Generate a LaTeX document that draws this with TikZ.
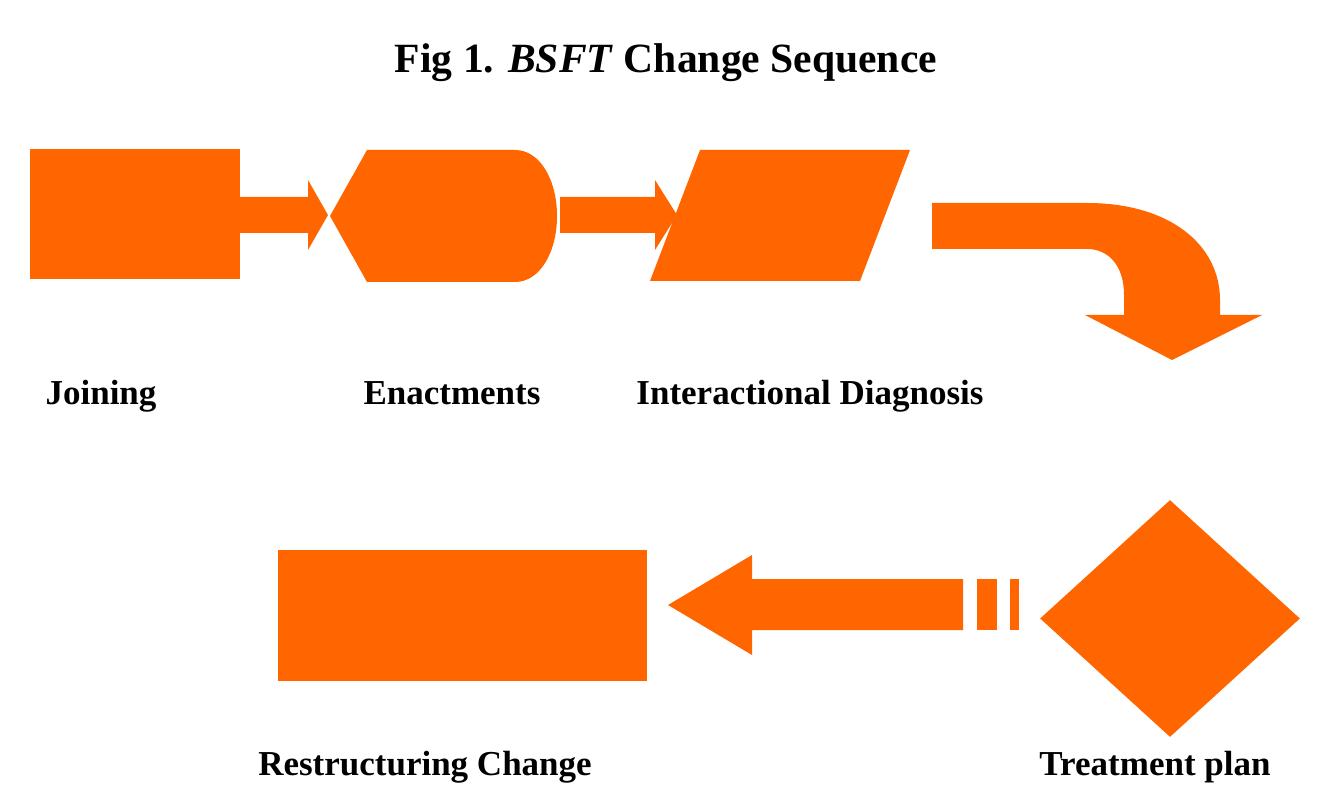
\documentclass[tikz,border=0pt]{standalone}
\usepackage{fontspec}
\setmainfont{Liberation Serif}
\usetikzlibrary{shapes.geometric}
\definecolor{bsft}{HTML}{FF6600}
\begin{document}
\begin{tikzpicture}[x=0.5pt,y=-0.5pt,
  blk/.style={fill=bsft,draw=none},
  lbl/.style={font=\fontsize{17.5}{20}\selectfont\bfseries,anchor=base,inner sep=0pt}]
\useasboundingbox (0,0) rectangle (1321,812);
\node[font=\fontsize{20.8}{24}\selectfont\bfseries,anchor=base,inner sep=0pt] (title) at (666,73) {Fig 1. \textit{BSFT} Change Sequence};
% Joining box
\node[blk,rectangle,minimum width=105pt,minimum height=65pt,inner sep=0pt] (join) at (135,214) {};
% arrow 1
\path[blk] (240,197) -- (308,197) -- (308,180) -- (328,215) -- (308,250) -- (308,233) -- (240,233) -- cycle;
% Enactments (delay-like hexagon)
\path[blk] (330,216) -- (367,150) -- (515,150) .. controls (540,150) and (557,180) .. (557,216) .. controls (557,252) and (540,282) .. (515,282) -- (367,282) -- cycle;
\coordinate (enact) at (444,216);
% arrow 2
\path[blk] (560,197) -- (655,197) -- (655,180) -- (677,215) -- (655,250) -- (655,233) -- (560,233) -- cycle;
% parallelogram
\path[blk] (700,150) -- (910,150) -- (860,281) -- (650,281) -- cycle;
\coordinate (diag) at (780,215);
% curved arrow
\path[blk] (932,203) -- (1087,203) .. controls (1170,203) and (1220,245) .. (1220,300) -- (1220,315) -- (1262,315) -- (1172,360) -- (1085,315) -- (1124,315) -- (1124,295) .. controls (1124,265) and (1108,249) .. (1087,249) -- (932,249) -- cycle;
% bottom rect
\node[blk,rectangle,minimum width=184.5pt,minimum height=65.5pt,inner sep=0pt] (restr) at (462.5,615.5) {};
% left arrow + stripes
\path[blk] (668,605) -- (752,555) -- (752,579) -- (963,579) -- (963,630) -- (752,630) -- (752,655) -- cycle;
\path[blk] (977,579) rectangle (997,630);
\path[blk] (1010,579) rectangle (1019,630);
% diamond
\node[blk,diamond,minimum width=130pt,minimum height=118.5pt,inner sep=0pt,aspect=1.1] (treat) at (1170,618.5) {};
% labels
\node[lbl] (ljoin) at (101,404) {Joining};
\node[lbl] (lenact) at (452,404) {Enactments};
\node[lbl] (ldiag) at (810,404) {Interactional Diagnosis};
\node[lbl] (lrestr) at (425,775) {Restructuring Change};
\node[lbl] (ltreat) at (1155,775) {Treatment plan};
\end{tikzpicture}
\end{document}
